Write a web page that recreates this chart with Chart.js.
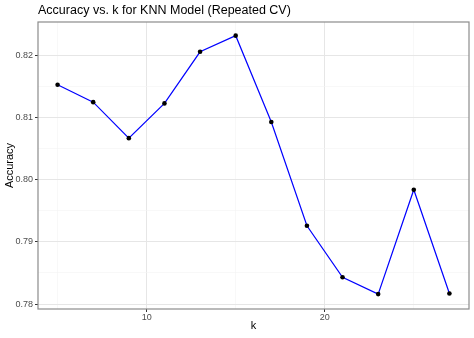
<!DOCTYPE html>
<html>
<head>
<meta charset="utf-8">
<script src="https://cdn.jsdelivr.net/npm/chart.js@4/dist/chart.umd.min.js"></script>
<style>
  html, body { margin: 0; padding: 0; background: #fff; overflow: hidden; }
  canvas { display: block; }
</style>
</head>
<body>
<canvas id="acc" width="474" height="338"></canvas>
<script>
// k values tried and mean accuracy from repeated CV
var kValues = [5, 7, 9, 11, 13, 15, 17, 19, 21, 23, 25, 27];
var accuracy = [0.8153, 0.8125, 0.8067, 0.8123, 0.8206, 0.8232,
                0.8093, 0.7926, 0.7843, 0.7816, 0.7984, 0.7817];

var xMajor = [10, 20];
var xMinor = [5, 15, 25];
var yMajor = [0.78, 0.79, 0.80, 0.81, 0.82];
var yMinor = [0.785, 0.795, 0.805, 0.815];

var titleText = "Accuracy vs. k for KNN Model (Repeated CV)";

var points = kValues.map(function (k, i) {
  return { x: k, y: accuracy[i] };
});

function isMajor(list, v) {
  return list.some(function (m) { return Math.abs(m - v) < 1e-9; });
}

// panel border and plot title
var panelPlugin = {
  id: "panel",
  afterDraw: function (chart) {
    var ctx = chart.ctx, a = chart.chartArea;
    ctx.save();
    ctx.strokeStyle = "#8c8c8c";
    ctx.lineWidth = 1.2;
    ctx.strokeRect(a.left, a.top, a.right - a.left, a.bottom - a.top);
    ctx.fillStyle = "#000";
    ctx.font = "12.5px 'Liberation Sans', Arial, sans-serif";
    ctx.textBaseline = "middle";
    ctx.textAlign = "left";
    ctx.fillText(titleText, a.left, 11);
    ctx.restore();
  }
};

var tickFont = { family: "'Liberation Sans', Arial, sans-serif", size: 9 };
var axisTitleFont = { family: "'Liberation Sans', Arial, sans-serif", size: 11 };

var chart = new Chart(document.getElementById("acc").getContext("2d"), {
  type: "scatter",
  data: {
    datasets: [{
      label: "Accuracy",
      data: points,
      showLine: true,
      borderColor: "#0000ff",
      borderWidth: 1.2,
      backgroundColor: "#000",
      pointBackgroundColor: "#000",
      pointBorderColor: "#000",
      pointRadius: 2.3,
      pointBorderWidth: 0
    }]
  },
  plugins: [panelPlugin],
  options: {
    responsive: false,
    animation: false,
    layout: { padding: { top: 22, right: 5, left: 0, bottom: 0 } },
    plugins: {
      legend: { display: false },
      title: { display: false },
      tooltip: { enabled: false }
    },
    scales: {
      x: {
        type: "linear",
        min: 3.9,
        max: 28.1,
        afterBuildTicks: function (scale) {
          scale.ticks = xMinor.concat(xMajor).sort(function (a, b) { return a - b; })
            .map(function (v) { return { value: v }; });
        },
        afterFit: function (scale) { scale.height = 29; },
        border: { display: false },
        grid: {
          color: function (c) {
            return isMajor(xMajor, c.tick.value) ? "#e6e6e6" : "#f3f3f3";
          },
          lineWidth: function (c) {
            return isMajor(xMajor, c.tick.value) ? 1 : 0.6;
          },
          tickColor: function (c) {
            return isMajor(xMajor, c.tick.value) ? "#333" : "rgba(0,0,0,0)";
          },
          tickLength: 3,
          drawTicks: true
        },
        ticks: {
          autoSkip: false,
          maxRotation: 0,
          padding: 0,
          color: "#4d4d4d",
          font: tickFont,
          callback: function (v) { return isMajor(xMajor, v) ? String(v) : ""; }
        },
        title: {
          display: true,
          text: "k",
          color: "#000",
          font: axisTitleFont,
          padding: { top: 0, bottom: 5 }
        }
      },
      y: {
        type: "linear",
        min: 0.7792,
        max: 0.8254,
        afterBuildTicks: function (scale) {
          scale.ticks = yMinor.concat(yMajor).sort(function (a, b) { return a - b; })
            .map(function (v) { return { value: v }; });
        },
        afterFit: function (scale) { scale.width = 38; },
        border: { display: false },
        grid: {
          color: function (c) {
            return isMajor(yMajor, c.tick.value) ? "#e6e6e6" : "#f3f3f3";
          },
          lineWidth: function (c) {
            return isMajor(yMajor, c.tick.value) ? 1 : 0.6;
          },
          tickColor: function (c) {
            return isMajor(yMajor, c.tick.value) ? "#333" : "rgba(0,0,0,0)";
          },
          tickLength: 3,
          drawTicks: true
        },
        ticks: {
          autoSkip: false,
          padding: 2,
          color: "#4d4d4d",
          font: tickFont,
          callback: function (v) { return isMajor(yMajor, v) ? v.toFixed(2) : ""; }
        },
        title: {
          display: true,
          text: "Accuracy",
          color: "#000",
          font: axisTitleFont,
          padding: { top: 3, bottom: 0 }
        }
      }
    }
  }
});
</script>
</body>
</html>
